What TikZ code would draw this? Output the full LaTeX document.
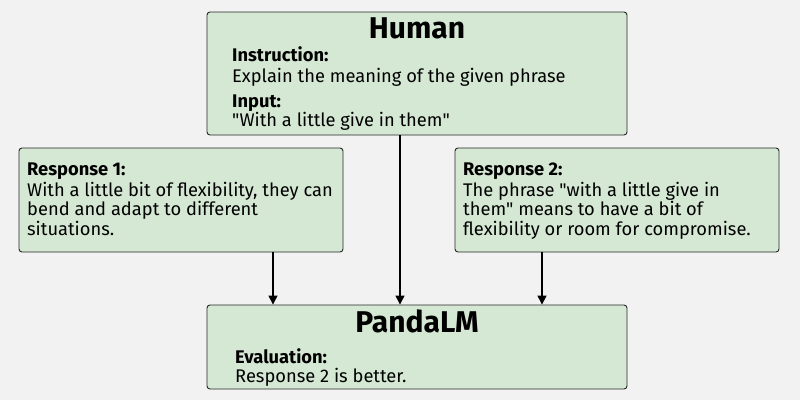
\documentclass[tikz,border=0pt]{standalone}
\usepackage{fontspec}
\setmainfont{Fira Sans}
\usepackage{tikz}
\usetikzlibrary{arrows.meta,positioning}
\definecolor{boxgreen}{HTML}{D5E8D4}
\definecolor{bgray}{HTML}{F2F2F2}
\tikzset{
  panel/.style={draw=black!85, fill=boxgreen, rounded corners=3pt, line width=0.9pt},
  txt/.style={anchor=base west, inner sep=0pt, font=\fontsize{18.3}{20}\selectfont},
  hd/.style={txt, font=\fontsize{18.3}{20}\bfseries\selectfont},
  ttl/.style={anchor=base, inner sep=0pt, font=\fontsize{30}{32}\bfseries\selectfont},
  link/.style={-{Triangle[length=9pt,width=9pt]}, line width=1.4pt}
}
\begin{document}
\begin{tikzpicture}[x=1pt,y=-1pt]
\useasboundingbox (0,0) rectangle (800,400);
\fill[bgray] (0,0) rectangle (800,400);
% ---- boxes ----
\node[panel, minimum width=420pt, minimum height=123pt] (human) at (417,73.5) {};
\node[panel, minimum width=324pt, minimum height=104pt] (resp1) at (181,200) {};
\node[panel, minimum width=324pt, minimum height=104pt] (resp2) at (617,200) {};
\node[panel, minimum width=420pt, minimum height=84pt] (panda) at (417,347) {};
% ---- human ----
\node[ttl] (humant) at (417,38.5) {Human};
\node[hd] (instr) at (232,61.5) {Instruction:};
\node[txt] (instrb) at (232,82) {Explain the meaning of the given phrase};
\node[hd] (inp) at (232,107.5) {Input:};
\node[txt] (inpb) at (232,126.5) {\textquotedbl With a little give in them\textquotedbl};
% ---- responses ----
\node[hd] (r1h) at (27,175) {Response 1:};
\node[txt] (r1a) at (27,196) {With a little bit of flexibility, they can};
\node[txt] (r1b) at (27,215.5) {bend and adapt to different};
\node[txt] (r1c) at (27,235) {situations.};
\node[hd] (r2h) at (463,175) {Response 2:};
\node[txt] (r2a) at (463,196) {The phrase \textquotedbl with a little give in};
\node[txt] (r2b) at (463,215.5) {them\textquotedbl{} means to have a bit of};
\node[txt] (r2c) at (463,235) {flexibility or room for compromise.};
% ---- pandalm ----
\node[ttl] (pandat) at (417,332.5) {PandaLM};
\node[hd] (evalh) at (235,363) {Evaluation:};
\node[txt] (evalb) at (235,382.5) {Response 2 is better.};
% ---- arrows ----
\draw[link] ([xshift=-17pt]human.south) -- ([xshift=-17pt]human.south |- panda.north);
\draw[link] ([xshift=92pt]resp1.south) -- ([xshift=92pt]resp1.south |- panda.north);
\draw[link] ([xshift=-75pt]resp2.south) -- ([xshift=-75pt]resp2.south |- panda.north);
\end{tikzpicture}
\end{document}
